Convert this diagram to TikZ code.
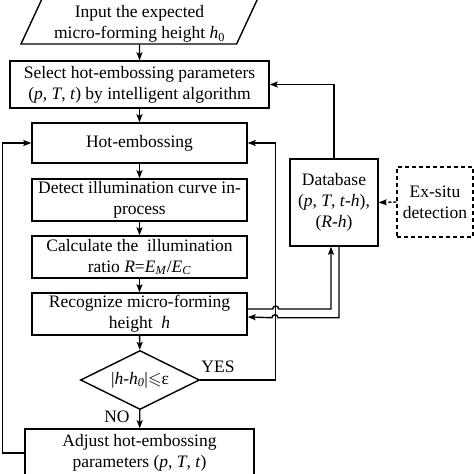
\documentclass[tikz,border=0pt]{standalone}
\usepackage{fontspec}
\usepackage{amssymb}
\setmainfont{Liberation Serif}
\usetikzlibrary{shapes.geometric, arrows.meta, positioning}

\begin{document}
\begin{tikzpicture}[
    x=1pt, y=-1pt,
    font=\fontsize{17.5}{21}\selectfont,
    line width=1.4pt,
    stepbox/.style={draw, rectangle, align=center, inner sep=0pt},
    inputbox/.style={draw, trapezium, trapezium left angle=63, trapezium right angle=117, trapezium stretches body, inner sep=0pt},
    decision/.style={draw, diamond, aspect=2, inner sep=0pt, minimum width=119pt, minimum height=59pt},
    flow/.style={-{Stealth[length=8pt, width=6pt, inset=1.5pt]}},
]
    \useasboundingbox (0,0) rectangle (474,474);
    \clip (0,0) rectangle (474,474);

    % Main chain
    \node[inputbox, minimum width=237pt, minimum height=46pt] (input) at (139.5,21) {\raisebox{-3pt}[\height][\depth]{\begin{tabular}{@{}c@{}}Input the expected\\micro-forming height \textit{h}\textsubscript{0}\end{tabular}}};
    \node[stepbox, minimum width=259pt, minimum height=47pt] (select) at (139.5,84.5) {Select hot-embossing parameters\\(\textit{p}, \textit{T}, \textit{t}) by intelligent algorithm};
    \node[stepbox, minimum width=215pt, minimum height=40pt] (hot) at (139.5,143) {Hot-embossing};
    \node[stepbox, minimum width=215pt, minimum height=42pt] (detect) at (139.5,200) {Detect illumination curve in-\\process};
    \node[stepbox, minimum width=215pt, minimum height=42pt] (calc) at (139.5,257) {Calculate the\ \ illumination\\ratio \textit{R}=\textit{E}\textsubscript{\textit{M}}/\textit{E}\textsubscript{\textit{C}}};
    \node[stepbox, minimum width=215pt, minimum height=42pt] (recog) at (139.5,314) {Recognize micro-forming\\height\ \ \textit{h}};
    \node[decision] (check) at (140,380) {|\textit{h}-\textit{h}\textsubscript{\textit{0}}|$\leqslant$ε};
    \node[stepbox, minimum width=229pt, minimum height=48pt] (adjust) at (139.5,453) {Adjust hot-embossing\\parameters (\textit{p}, \textit{T}, \textit{t})};

    % Side boxes
    \node[stepbox, minimum width=88pt, minimum height=87pt] (dbase) at (334,202.5) {Database\\(\textit{p}, \textit{T}, \textit{t}-\textit{h}),\\(\textit{R}-\textit{h})};
    \node[stepbox, dashed, dash pattern=on 4pt off 3pt, minimum width=76pt, minimum height=70pt] (exsitu) at (435,202) {Ex-situ\\detection};

    % Labels
    \node (yes) at (218,367) {YES};
    \node (no) at (117,417) {NO};

    % Connectors
    \draw[flow] (input.south) -- (select.north);
    \draw[flow] (select) -- (hot);
    \draw[flow] (hot) -- (detect);
    \draw[flow] (detect) -- (calc);
    \draw[flow] (calc) -- (recog);
    \draw[flow] (recog) -- (check);
    \draw[flow] (check) -- (adjust);
    \draw[flow] (adjust.west) -- ++(-22,0) |- (hot.west);
    \draw[flow] (check.east) -- ++(75.5,0) |- (hot.east);
    \draw[flow] (dbase.north) |- (select.east);
    \draw[flow, dashed, dash pattern=on 3pt off 2pt] (exsitu.west) -- (dbase.east);
    \draw[flow] ([yshift=5pt]recog.east) -- ++(25,0) arc[start angle=180, end angle=360, radius=3] -| ([xshift=-3pt]dbase.south);
    \draw[flow] ([xshift=5pt]dbase.south) -- ++(0,71) -- ++(-61,0) arc[start angle=360, end angle=180, radius=3] -- ([yshift=-3pt]recog.east);
\end{tikzpicture}
\end{document}
